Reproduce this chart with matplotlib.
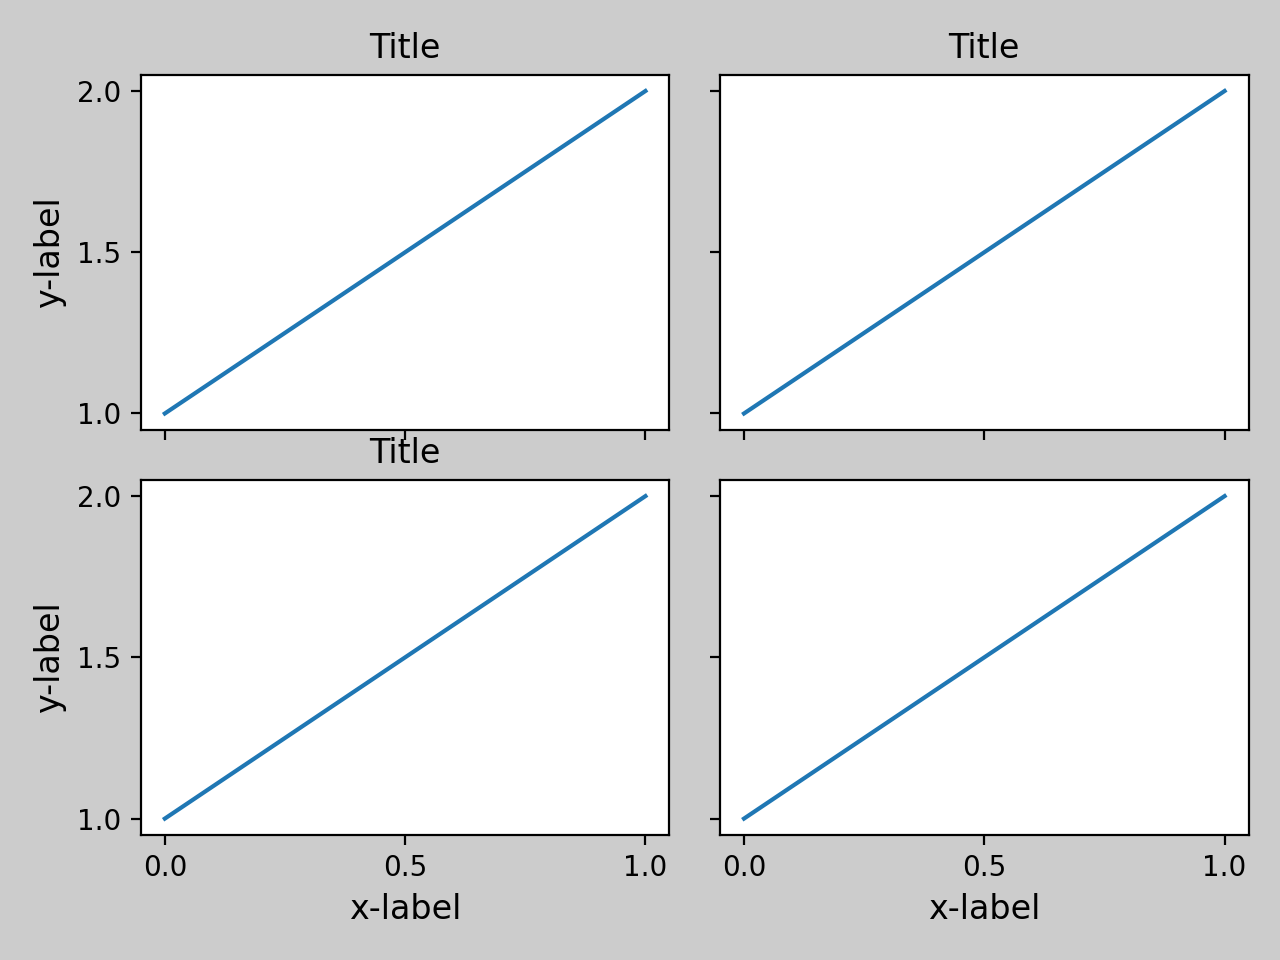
import matplotlib
matplotlib.use("Agg")
import matplotlib.pyplot as plt

x = [0, 1]
y = [1, 2]
titles = [["Title", "Title"], ["Title", None]]

fig, axs = plt.subplots(2, 2, figsize=(6.4, 4.8), dpi=200,
                        sharex=True, sharey=True, facecolor="0.8")
fig.subplots_adjust(left=0.110, right=0.9755, top=0.922, bottom=0.1305,
                    wspace=0.0955, hspace=0.142)

for i in range(2):
    for j in range(2):
        ax = axs[i, j]
        ax.plot(x, y)
        if titles[i][j]:
            ax.set_title(titles[i][j], fontsize=12)
        if i == 1:
            ax.set_xlabel("x-label", fontsize=12)
        if j == 0:
            ax.set_ylabel("y-label", fontsize=12)
        ax.set_xticks([0.0, 0.5, 1.0])
        ax.set_yticks([1.0, 1.5, 2.0])

fig.savefig("out.png", facecolor=fig.get_facecolor())
